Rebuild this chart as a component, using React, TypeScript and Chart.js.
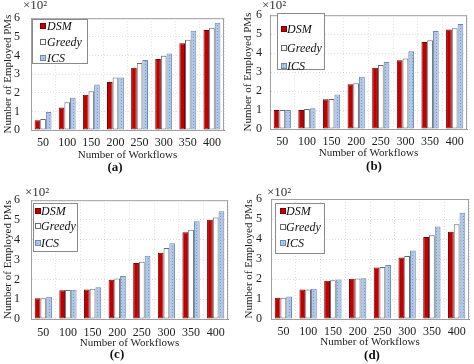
import React, { useEffect, useRef } from "react";
import { Chart, registerables } from "chart.js";

Chart.register(...registerables);

// ---------------- data ----------------
const categories = ["50", "100", "150", "200", "250", "300", "350", "400"];
const seriesNames = ["DSM", "Greedy", "ICS"];
const yTicks = [0, 1, 2, 3, 4, 5, 6];
const yExponentLabel = "×10²";
const xTitle = "Number of Workflows";
const yTitle = "Number of Employed PMs";
const panelLabels = ["(a)", "(b)", "(c)", "(d)"];

const dsmA = [0.52, 1.21, 1.89, 2.58, 3.34, 3.81, 4.66, 5.37];
const greedyA = [0.59, 1.49, 2.08, 2.82, 3.6, 3.99, 4.85, 5.49];
const icsA = [0.97, 1.73, 2.44, 2.82, 3.76, 4.11, 5.32, 5.75];

const dsmB = [1.0, 1.0, 1.57, 2.36, 3.23, 3.63, 4.59, 5.24];
const greedyB = [1.0, 1.05, 1.58, 2.41, 3.37, 3.72, 4.68, 5.31];
const icsB = [1.0, 1.1, 1.82, 2.76, 3.53, 4.1, 5.17, 5.53];

const dsmC = [1.05, 1.45, 1.49, 1.98, 2.83, 3.34, 4.38, 5.01];
const greedyC = [1.05, 1.46, 1.53, 2.05, 2.89, 3.59, 4.51, 5.12];
const icsC = [1.12, 1.48, 1.6, 2.17, 3.19, 3.83, 4.94, 5.44];

const dsmD = [1.06, 1.47, 1.91, 2.01, 2.58, 3.07, 4.1, 4.36];
const greedyD = [1.06, 1.47, 1.94, 2.03, 2.6, 3.15, 4.19, 4.74];
const icsD = [1.12, 1.51, 1.98, 2.04, 2.7, 3.43, 4.62, 5.31];

const panelSeries = [
  [dsmA, greedyA, icsA],
  [dsmB, greedyB, icsB],
  [dsmC, greedyC, icsC],
  [dsmD, greedyD, icsD],
];

// ---------------- layout / style ----------------
const FONT = "'Liberation Serif', 'Times New Roman', serif";
const PW = 237;
const PH = 182;
const TICK_SIZE = 12;
const XTITLE_SIZE = 11;
const YTITLE_SIZE = 11;

const layouts = [
  { x: 0, y: 0, L: 31, R: 224, T: 15, B: 130, tick: 13, title: 25, label: 38, labelX: 115, yTitleX: 8.5, tickGap: 11, expX: 23, expY: 6,
    lg: { x: 32, y: 19, w: 55, h: 44, rows: [26, 42, 58], mx: 40, tx: 47 } },
  { x: 237, y: 0, L: 33, R: 230, T: 15, B: 129, tick: 12.5, title: 24.5, label: 37.5, labelX: 137, yTitleX: 11, tickGap: 8, expX: 25, expY: 6,
    lg: { x: 40, y: 13, w: 47, h: 56, rows: [29, 48, 66], mx: 44, tx: 50 } },
  { x: 0, y: 182, L: 31, R: 228, T: 16, B: 137, tick: 14, title: 24, label: 36, labelX: 117, yTitleX: 8.5, tickGap: 11, expX: 25, expY: 11,
    lg: { x: 33, y: 21, w: 44, h: 48, rows: [29, 44, 61], mx: 35, tx: 41 } },
  { x: 237, y: 182, L: 34, R: 232, T: 17, B: 137, tick: 12.5, title: 23.5, label: 36.5, labelX: 135, yTitleX: 12, tickGap: 9, expX: 30, expY: 11,
    lg: { x: 38, y: 21, w: 49, h: 50, rows: [29, 45, 61], mx: 43, tx: 49 } },
];

function makeIcsPattern(): CanvasPattern | string {
  const c = document.createElement("canvas");
  c.width = 3;
  c.height = 3;
  const g = c.getContext("2d");
  if (!g) return "#b0c8e6";
  g.fillStyle = "#b0c7e5";
  g.fillRect(0, 0, 3, 3);
  g.fillStyle = "#7f9cc6";
  g.fillRect(1, 1, 1, 1);
  return g.createPattern(c, "repeat") || "#b0c8e6";
}

function Panel({ index }: { index: number }) {
  const ref = useRef<HTMLCanvasElement | null>(null);

  useEffect(() => {
    const canvas = ref.current;
    if (!canvas) return;
    const lay = layouts[index];
    const icsFill = makeIcsPattern();
    const fills: (string | CanvasPattern)[] = ["#c00000", "#ffffff", icsFill];
    const borders = ["#7a0000", "#6a6a6a", "#6a8ab4"];
    const tickLH = TICK_SIZE * 1.2;
    const xtLH = XTITLE_SIZE * 1.2;
    const ytLH = YTITLE_SIZE * 1.2;

    const extras = {
      id: "extras" + index,
      afterDraw(chart: any) {
        const ctx = chart.ctx as CanvasRenderingContext2D;
        const a = chart.chartArea;
        ctx.save();
        // plot frame
        ctx.strokeStyle = "#a0a0a0";
        ctx.lineWidth = 1;
        ctx.strokeRect(a.left + 0.5, a.top + 0.5, a.right - a.left - 1, a.bottom - a.top);
        // exponent
        ctx.fillStyle = "#333";
        ctx.font = `13px ${FONT}`;
        ctx.textAlign = "left";
        ctx.textBaseline = "middle";
        ctx.fillText(yExponentLabel, lay.expX, lay.expY);
        // panel label
        ctx.font = `bold 13px ${FONT}`;
        ctx.textAlign = "center";
        ctx.fillStyle = "#111";
        ctx.fillText(panelLabels[index], lay.labelX, a.bottom + lay.label);
        // legend
        const lg = lay.lg;
        ctx.fillStyle = "#ffffff";
        ctx.fillRect(lg.x, lg.y, lg.w, lg.h);
        ctx.strokeStyle = "#8a8a8a";
        ctx.strokeRect(lg.x + 0.5, lg.y + 0.5, lg.w, lg.h);
        ctx.font = `italic 12px ${FONT}`;
        ctx.textAlign = "left";
        seriesNames.forEach((name, i) => {
          const cy = lg.rows[i];
          ctx.fillStyle = fills[i] as any;
          ctx.fillRect(lg.mx, cy - 3, 6, 6);
          ctx.strokeStyle = borders[i];
          ctx.strokeRect(lg.mx + 0.5, cy - 2.5, 5, 5);
          ctx.fillStyle = "#111";
          ctx.fillText(name, lg.tx, cy + 0.5);
        });
        ctx.restore();
      },
    };

    const chart = new Chart(canvas, {
      type: "bar",
      data: {
        labels: categories,
        datasets: seriesNames.map((name, i) => ({
          label: name,
          data: panelSeries[index][i],
          backgroundColor: fills[i] as any,
          borderColor: borders[i],
          borderWidth: 1,
          borderSkipped: false,
          categoryPercentage: 0.7,
          barPercentage: 1.0,
        })),
      },
      options: {
        animation: false,
        responsive: false,
        maintainAspectRatio: false,
        devicePixelRatio: 1,
        layout: { padding: { left: 0, top: lay.T, right: PW - lay.R, bottom: 0 } },
        plugins: {
          legend: { display: false },
          tooltip: { enabled: false },
          title: { display: false },
        },
        scales: {
          x: {
            grid: { display: true, offset: true, drawTicks: false, color: "rgba(0,0,0,0.13)", lineWidth: 1 },
            border: { display: true, color: "#8a8a8a", dash: [1, 2] },
            ticks: {
              color: "#222",
              font: { family: FONT, size: TICK_SIZE },
              padding: lay.tick - tickLH / 2,
              maxRotation: 0,
              autoSkip: false,
            },
            title: {
              display: true,
              text: xTitle,
              color: "#222",
              font: { family: FONT, size: XTITLE_SIZE },
              padding: { top: 0, bottom: PH - lay.B - lay.title - xtLH / 2 },
            },
            afterFit(scale: any) {
              scale.height = PH - lay.B;
            },
          },
          y: {
            min: 0,
            max: 6,
            grid: { display: true, drawTicks: false, color: "rgba(0,0,0,0.13)", lineWidth: 1 },
            border: { display: true, color: "#8a8a8a", dash: [1, 2] },
            afterBuildTicks(scale: any) {
              scale.ticks = yTicks.map((v) => ({ value: v }));
            },
            ticks: {
              color: "#222",
              font: { family: FONT, size: TICK_SIZE },
              padding: lay.tickGap,
            },
            title: {
              display: true,
              text: yTitle,
              color: "#222",
              font: { family: FONT, size: YTITLE_SIZE },
              padding: { top: Math.max(0, lay.yTitleX - ytLH / 2), bottom: 0 },
            },
            afterFit(scale: any) {
              scale.width = lay.L;
            },
          },
        },
      },
      plugins: [extras],
    } as any);

    return () => chart.destroy();
  }, [index]);

  const lay = layouts[index];
  return (
    <div style={{ position: "absolute", left: lay.x, top: lay.y, width: PW, height: PH }}>
      <canvas ref={ref} width={PW} height={PH} style={{ width: PW, height: PH, display: "block" }} />
    </div>
  );
}

export default function App() {
  return (
    <div style={{ position: "absolute", left: 0, top: 0, width: 474, height: 364, background: "#ffffff" }}>
      {[0, 1, 2, 3].map((i) => (
        <Panel key={i} index={i} />
      ))}
    </div>
  );
}
